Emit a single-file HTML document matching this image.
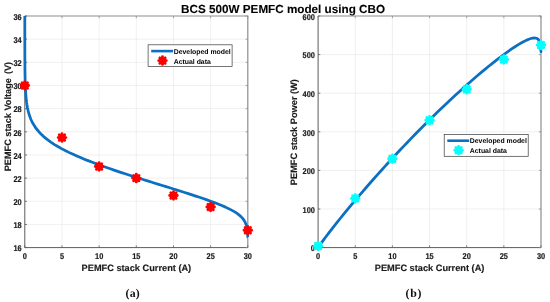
<!DOCTYPE html>
<html><head><meta charset="utf-8"><title>BCS 500W PEMFC model using CBO</title>
<style>
html,body{margin:0;padding:0;background:#fff;}
body{width:550px;height:302px;overflow:hidden;}
svg{display:block;}
text{font-family:"Liberation Sans",Arial,sans-serif;font-weight:bold;fill:#262626;text-rendering:geometricPrecision;}
.tk{font-size:8.4px;fill:#1c1c1c;stroke:#1c1c1c;stroke-width:0.2px;}
.lb{font-size:9.22px;fill:#1c1c1c;stroke:#1c1c1c;stroke-width:0.15px;}
.lg{font-size:6.9px;fill:#000;}
.cap{font-family:"Liberation Serif","DejaVu Serif",serif;font-weight:bold;font-size:11.8px;fill:#111;letter-spacing:0.25px;}
.tt{font-size:11.69px;fill:#000;stroke:#000;stroke-width:0.1px}
</style></head><body>
<svg width="550" height="302" viewBox="0 0 550 302">
<rect width="550" height="302" fill="#fff"/>
<path d="M61.97,16.0V247.6M99.13,16.0V247.6M136.30,16.0V247.6M173.47,16.0V247.6M210.63,16.0V247.6M24.8,224.44H247.8M24.8,201.28H247.8M24.8,178.12H247.8M24.8,154.96H247.8M24.8,131.80H247.8M24.8,108.64H247.8M24.8,85.48H247.8M24.8,62.32H247.8M24.8,39.16H247.8" stroke="#e9e9e9" stroke-width="0.7" fill="none"/>
<path d="M24.8,16.0H247.8V247.6" fill="none" stroke="#8e8e8e" stroke-width="1.2"/>
<path d="M24.8,16.0V247.6H247.8" fill="none" stroke="#5c5c5c" stroke-width="1"/>
<path d="M24.80,16.0v2.2M61.97,16.0v2.2M99.13,16.0v2.2M136.30,16.0v2.2M173.47,16.0v2.2M210.63,16.0v2.2M247.80,16.0v2.2M247.8,247.60h-2.2M247.8,224.44h-2.2M247.8,201.28h-2.2M247.8,178.12h-2.2M247.8,154.96h-2.2M247.8,131.80h-2.2M247.8,108.64h-2.2M247.8,85.48h-2.2M247.8,62.32h-2.2M247.8,39.16h-2.2M247.8,16.00h-2.2" stroke="#8e8e8e" stroke-width="0.8" fill="none"/>
<path d="M24.80,247.6v-2.2M61.97,247.6v-2.2M99.13,247.6v-2.2M136.30,247.6v-2.2M173.47,247.6v-2.2M210.63,247.6v-2.2M247.80,247.6v-2.2M24.8,247.60h2.2M24.8,224.44h2.2M24.8,201.28h2.2M24.8,178.12h2.2M24.8,154.96h2.2M24.8,131.80h2.2M24.8,108.64h2.2M24.8,85.48h2.2M24.8,62.32h2.2M24.8,39.16h2.2M24.8,16.00h2.2" stroke="#5c5c5c" stroke-width="0.8" fill="none"/>
<text class="tk" transform="translate(24.80,259.1) scale(0.885,1)" text-anchor="middle">0</text>
<text class="tk" transform="translate(61.97,259.1) scale(0.885,1)" text-anchor="middle">5</text>
<text class="tk" transform="translate(99.13,259.1) scale(0.885,1)" text-anchor="middle">10</text>
<text class="tk" transform="translate(136.30,259.1) scale(0.885,1)" text-anchor="middle">15</text>
<text class="tk" transform="translate(173.47,259.1) scale(0.885,1)" text-anchor="middle">20</text>
<text class="tk" transform="translate(210.63,259.1) scale(0.885,1)" text-anchor="middle">25</text>
<text class="tk" transform="translate(247.80,259.1) scale(0.885,1)" text-anchor="middle">30</text>
<text class="tk" transform="translate(21.7,251.40) scale(0.885,1)" text-anchor="end">16</text>
<text class="tk" transform="translate(21.7,228.24) scale(0.885,1)" text-anchor="end">18</text>
<text class="tk" transform="translate(21.7,205.08) scale(0.885,1)" text-anchor="end">20</text>
<text class="tk" transform="translate(21.7,181.92) scale(0.885,1)" text-anchor="end">22</text>
<text class="tk" transform="translate(21.7,158.76) scale(0.885,1)" text-anchor="end">24</text>
<text class="tk" transform="translate(21.7,135.60) scale(0.885,1)" text-anchor="end">26</text>
<text class="tk" transform="translate(21.7,112.44) scale(0.885,1)" text-anchor="end">28</text>
<text class="tk" transform="translate(21.7,89.28) scale(0.885,1)" text-anchor="end">30</text>
<text class="tk" transform="translate(21.7,66.12) scale(0.885,1)" text-anchor="end">32</text>
<text class="tk" transform="translate(21.7,42.96) scale(0.885,1)" text-anchor="end">34</text>
<text class="tk" transform="translate(21.7,19.80) scale(0.885,1)" text-anchor="end">36</text>
<path d="M355.25,16.0V247.6M392.40,16.0V247.6M429.55,16.0V247.6M466.70,16.0V247.6M503.85,16.0V247.6M318.1,209.00H541.0M318.1,170.40H541.0M318.1,131.80H541.0M318.1,93.20H541.0M318.1,54.60H541.0" stroke="#e9e9e9" stroke-width="0.7" fill="none"/>
<path d="M318.1,16.0H541.0V247.6" fill="none" stroke="#8e8e8e" stroke-width="1.2"/>
<path d="M318.1,16.0V247.6H541.0" fill="none" stroke="#5c5c5c" stroke-width="1"/>
<path d="M318.10,16.0v2.2M355.25,16.0v2.2M392.40,16.0v2.2M429.55,16.0v2.2M466.70,16.0v2.2M503.85,16.0v2.2M541.00,16.0v2.2M541.0,247.60h-2.2M541.0,209.00h-2.2M541.0,170.40h-2.2M541.0,131.80h-2.2M541.0,93.20h-2.2M541.0,54.60h-2.2M541.0,16.00h-2.2" stroke="#8e8e8e" stroke-width="0.8" fill="none"/>
<path d="M318.10,247.6v-2.2M355.25,247.6v-2.2M392.40,247.6v-2.2M429.55,247.6v-2.2M466.70,247.6v-2.2M503.85,247.6v-2.2M541.00,247.6v-2.2M318.1,247.60h2.2M318.1,209.00h2.2M318.1,170.40h2.2M318.1,131.80h2.2M318.1,93.20h2.2M318.1,54.60h2.2M318.1,16.00h2.2" stroke="#5c5c5c" stroke-width="0.8" fill="none"/>
<text class="tk" transform="translate(318.10,259.1) scale(0.885,1)" text-anchor="middle">0</text>
<text class="tk" transform="translate(355.25,259.1) scale(0.885,1)" text-anchor="middle">5</text>
<text class="tk" transform="translate(392.40,259.1) scale(0.885,1)" text-anchor="middle">10</text>
<text class="tk" transform="translate(429.55,259.1) scale(0.885,1)" text-anchor="middle">15</text>
<text class="tk" transform="translate(466.70,259.1) scale(0.885,1)" text-anchor="middle">20</text>
<text class="tk" transform="translate(503.85,259.1) scale(0.885,1)" text-anchor="middle">25</text>
<text class="tk" transform="translate(541.00,259.1) scale(0.885,1)" text-anchor="middle">30</text>
<text class="tk" transform="translate(314.9,251.40) scale(0.885,1)" text-anchor="end">0</text>
<text class="tk" transform="translate(314.9,212.80) scale(0.885,1)" text-anchor="end">100</text>
<text class="tk" transform="translate(314.9,174.20) scale(0.885,1)" text-anchor="end">200</text>
<text class="tk" transform="translate(314.9,135.60) scale(0.885,1)" text-anchor="end">300</text>
<text class="tk" transform="translate(314.9,97.00) scale(0.885,1)" text-anchor="end">400</text>
<text class="tk" transform="translate(314.9,58.40) scale(0.885,1)" text-anchor="end">500</text>
<text class="tk" transform="translate(314.9,19.80) scale(0.885,1)" text-anchor="end">600</text>
<path d="M24.80,16.00 L24.80,17.97 L24.80,20.68 L24.80,23.39 L24.81,26.10 L24.81,28.81 L24.81,31.52 L24.81,34.22 L24.81,36.93 L24.82,39.64 L24.82,42.35 L24.82,45.06 L24.83,47.77 L24.84,50.48 L24.85,53.19 L24.86,55.90 L24.87,58.61 L24.88,61.33 L24.90,64.04 L24.93,66.75 L24.95,69.46 L24.99,72.18 L25.03,74.90 L25.08,77.61 L25.15,80.33 L25.23,83.06 L25.32,85.78 L25.44,88.51 L25.59,91.25 L25.77,93.99 L25.98,96.73 L26.25,99.49 L26.58,102.26 L26.99,105.04 L27.48,107.83 L28.09,110.65 L28.83,113.49 L29.74,116.36 L30.86,119.26 L32.23,122.21 L35.95,128.25 L39.67,132.72 L43.38,136.34 L47.10,139.42 L50.82,142.13 L54.53,144.57 L58.25,146.80 L61.97,148.86 L65.68,150.80 L69.40,152.62 L73.12,154.36 L76.83,156.02 L80.55,157.61 L84.27,159.15 L87.98,160.64 L91.70,162.08 L95.42,163.49 L99.13,164.86 L102.85,166.21 L106.57,167.53 L110.28,168.82 L114.00,170.09 L117.72,171.34 L121.43,172.58 L125.15,173.80 L128.87,175.01 L132.58,176.20 L136.30,177.39 L140.02,178.56 L143.73,179.73 L147.45,180.89 L151.17,182.05 L154.88,183.21 L158.60,184.36 L162.32,185.51 L166.03,186.66 L169.75,187.81 L173.47,188.96 L177.18,190.12 L180.90,191.29 L184.62,192.47 L188.33,193.65 L192.05,194.85 L195.77,196.07 L199.48,197.30 L203.20,198.57 L206.92,199.86 L210.63,201.19 L214.35,202.57 L218.07,204.00 L221.78,205.52 L225.50,207.13 L229.22,208.89 L232.93,210.86 L235.57,212.44 L237.73,213.91 L239.52,215.30 L240.98,216.62 L242.19,217.88 L243.18,219.08 L244.00,220.25 L244.67,221.37 L245.23,222.46 L245.68,223.52 L246.06,224.55 L246.37,225.56 L246.62,226.53 L246.83,227.47 L247.00,228.39 L247.14,229.27 L247.26,230.12 L247.35,230.92 L247.43,231.69 L247.50,232.41 L247.55,233.09 L247.60,233.72 L247.63,234.30 L247.66,234.82 L247.69,235.30 L247.71,235.73 L247.72,236.10 L247.74,236.44 L247.75,236.73 L247.76,236.95 L247.76,236.95 L247.77,236.95 L247.78,236.95 L247.78,236.95 L247.78,236.95 L247.79,236.95 L247.79,236.95 L247.79,236.95 L247.79,236.95 L247.80,236.95" fill="none" stroke="#0b6fc2" stroke-width="2.75" stroke-linejoin="round" stroke-linecap="butt"/>
<path d="M318.10,247.60 L318.10,247.60 L318.10,247.59 L318.10,247.59 L318.10,247.59 L318.11,247.59 L318.11,247.59 L318.11,247.58 L318.11,247.58 L318.11,247.58 L318.12,247.57 L318.12,247.56 L318.12,247.56 L318.13,247.55 L318.14,247.54 L318.15,247.52 L318.16,247.51 L318.17,247.49 L318.18,247.46 L318.20,247.43 L318.23,247.39 L318.25,247.35 L318.29,247.29 L318.33,247.23 L318.38,247.15 L318.45,247.05 L318.53,246.93 L318.62,246.78 L318.74,246.61 L318.89,246.39 L319.07,246.13 L319.28,245.81 L319.55,245.43 L319.88,244.96 L320.28,244.39 L320.78,243.69 L321.38,242.85 L322.13,241.83 L323.04,240.58 L324.16,239.08 L325.53,237.24 L329.25,232.37 L332.96,227.59 L336.68,222.89 L340.39,218.25 L344.11,213.68 L347.82,209.16 L351.54,204.69 L355.25,200.26 L358.97,195.88 L362.68,191.55 L366.40,187.25 L370.11,183.00 L373.83,178.78 L377.54,174.61 L381.25,170.46 L384.97,166.36 L388.69,162.29 L392.40,158.26 L396.12,154.26 L399.83,150.30 L403.55,146.38 L407.26,142.48 L410.98,138.63 L414.69,134.80 L418.41,131.01 L422.12,127.26 L425.84,123.54 L429.55,119.85 L433.27,116.20 L436.98,112.59 L440.70,109.01 L444.41,105.46 L448.12,101.96 L451.84,98.49 L455.56,95.05 L459.27,91.66 L462.99,88.30 L466.70,84.99 L470.42,81.72 L474.13,78.49 L477.85,75.30 L481.56,72.17 L485.27,69.08 L488.99,66.04 L492.71,63.07 L496.42,60.15 L500.13,57.30 L503.85,54.52 L507.56,51.83 L511.28,49.24 L515.00,46.76 L518.71,44.43 L522.42,42.28 L526.14,40.38 L528.77,39.25 L530.94,38.52 L532.72,38.10 L534.19,37.95 L535.39,38.01 L536.39,38.23 L537.20,38.59 L537.87,39.06 L538.43,39.61 L538.88,40.23 L539.26,40.90 L539.57,41.61 L539.82,42.34 L540.03,43.09 L540.20,43.84 L540.34,44.59 L540.46,45.33 L540.55,46.05 L540.63,46.74 L540.70,47.41 L540.75,48.03 L540.80,48.62 L540.83,49.17 L540.86,49.67 L540.89,50.12 L540.91,50.53 L540.92,50.89 L540.94,51.21 L540.95,51.49 L540.96,51.70 L540.96,51.70 L540.97,51.69 L540.98,51.69 L540.98,51.68 L540.98,51.68 L540.99,51.68 L540.99,51.68 L540.99,51.67 L540.99,51.67 L541.00,51.67" fill="none" stroke="#0b6fc2" stroke-width="2.75" stroke-linejoin="round" stroke-linecap="butt"/>
<path d="M21.00,85.48L28.60,85.48M22.11,82.79L27.49,88.17M24.80,81.68L24.80,89.28M27.49,82.79L22.11,88.17" stroke="#ff0000" stroke-width="2.9" stroke-linecap="round" fill="none"/>
<path d="M58.17,137.59L65.77,137.59M59.28,134.90L64.65,140.28M61.97,133.79L61.97,141.39M64.65,134.90L59.28,140.28" stroke="#ff0000" stroke-width="2.9" stroke-linecap="round" fill="none"/>
<path d="M95.33,166.54L102.93,166.54M96.45,163.85L101.82,169.23M99.13,162.74L99.13,170.34M101.82,163.85L96.45,169.23" stroke="#ff0000" stroke-width="2.9" stroke-linecap="round" fill="none"/>
<path d="M132.50,178.12L140.10,178.12M133.61,175.43L138.99,180.81M136.30,174.32L136.30,181.92M138.99,175.43L133.61,180.81" stroke="#ff0000" stroke-width="2.9" stroke-linecap="round" fill="none"/>
<path d="M169.67,195.49L177.27,195.49M170.78,192.80L176.15,198.18M173.47,191.69L173.47,199.29M176.15,192.80L170.78,198.18" stroke="#ff0000" stroke-width="2.9" stroke-linecap="round" fill="none"/>
<path d="M206.83,207.07L214.43,207.07M207.95,204.38L213.32,209.76M210.63,203.27L210.63,210.87M213.32,204.38L207.95,209.76" stroke="#ff0000" stroke-width="2.9" stroke-linecap="round" fill="none"/>
<path d="M244.00,230.23L251.60,230.23M245.11,227.54L250.49,232.92M247.80,226.43L247.80,234.03M250.49,227.54L245.11,232.92" stroke="#ff0000" stroke-width="2.9" stroke-linecap="round" fill="none"/>
<path d="M314.30,246.06L321.90,246.06M315.41,243.37L320.79,248.74M318.10,242.26L318.10,249.86M320.79,243.37L315.41,248.74" stroke="#00ffff" stroke-width="2.9" stroke-linecap="round" fill="none"/>
<path d="M351.45,198.38L359.05,198.38M352.56,195.70L357.94,201.07M355.25,194.58L355.25,202.19M357.94,195.70L352.56,201.07" stroke="#00ffff" stroke-width="2.9" stroke-linecap="round" fill="none"/>
<path d="M388.60,158.82L396.20,158.82M389.71,156.13L395.09,161.51M392.40,155.02L392.40,162.62M395.09,156.13L389.71,161.51" stroke="#00ffff" stroke-width="2.9" stroke-linecap="round" fill="none"/>
<path d="M425.75,120.22L433.35,120.22M426.86,117.53L432.24,122.91M429.55,116.42L429.55,124.02M432.24,117.53L426.86,122.91" stroke="#00ffff" stroke-width="2.9" stroke-linecap="round" fill="none"/>
<path d="M462.90,89.34L470.50,89.34M464.01,86.65L469.39,92.03M466.70,85.54L466.70,93.14M469.39,86.65L464.01,92.03" stroke="#00ffff" stroke-width="2.9" stroke-linecap="round" fill="none"/>
<path d="M500.05,59.43L507.65,59.43M501.16,56.74L506.54,62.11M503.85,55.63L503.85,63.23M506.54,56.74L501.16,62.11" stroke="#00ffff" stroke-width="2.9" stroke-linecap="round" fill="none"/>
<path d="M537.20,44.95L544.80,44.95M538.31,42.26L543.69,47.64M541.00,41.15L541.00,48.75M543.69,42.26L538.31,47.64" stroke="#00ffff" stroke-width="2.9" stroke-linecap="round" fill="none"/>
<rect x="148.1" y="44.8" width="84" height="21.6" fill="#fff" stroke="#3a3a3a" stroke-width="0.7"/>
<path d="M151.2,51.099999999999994h21.9" stroke="#0b6fc2" stroke-width="2.6" fill="none"/>
<path d="M158.70,60.60L166.30,60.60M159.81,57.91L165.19,63.29M162.50,56.80L162.50,64.40M165.19,57.91L159.81,63.29" stroke="#ff0000" stroke-width="2.9" stroke-linecap="round" fill="none"/>
<text class="lg" x="173.7" y="53.699999999999996">Developed model</text>
<text class="lg" x="173.7" y="63.8">Actual data</text>
<rect x="444.2" y="134.4" width="84" height="21.9" fill="#fff" stroke="#3a3a3a" stroke-width="0.7"/>
<path d="M447.3,140.70000000000002h21.9" stroke="#0b6fc2" stroke-width="2.6" fill="none"/>
<path d="M454.80,150.20L462.40,150.20M455.91,147.51L461.29,152.89M458.60,146.40L458.60,154.00M461.29,147.51L455.91,152.89" stroke="#00ffff" stroke-width="2.9" stroke-linecap="round" fill="none"/>
<text class="lg" x="469.8" y="143.3">Developed model</text>
<text class="lg" x="469.8" y="153.4">Actual data</text>
<text class="tt" x="283.05" y="13.2" text-anchor="middle">BCS 500W PEMFC model using CBO</text>
<text class="lb" x="136.4" y="270.8" text-anchor="middle">PEMFC stack Current (A)</text>
<text class="lb" x="429.6" y="270.8" text-anchor="middle">PEMFC stack Current (A)</text>
<text class="lb" style="font-size:9.2px" transform="translate(11.1,116.6) rotate(-90)" text-anchor="middle">PEMFC stack Voltage <tspan dx="1.4">(V)</tspan></text>
<text class="lb" transform="translate(297.4,132.15) rotate(-90)" text-anchor="middle">PEMFC stack Power (W)</text>
<text class="cap" x="132.8" y="296.6" text-anchor="middle">(a)</text>
<text class="cap" style="letter-spacing:0.75px" x="413.95" y="296.6" text-anchor="middle">(b)</text>
</svg></body></html>
